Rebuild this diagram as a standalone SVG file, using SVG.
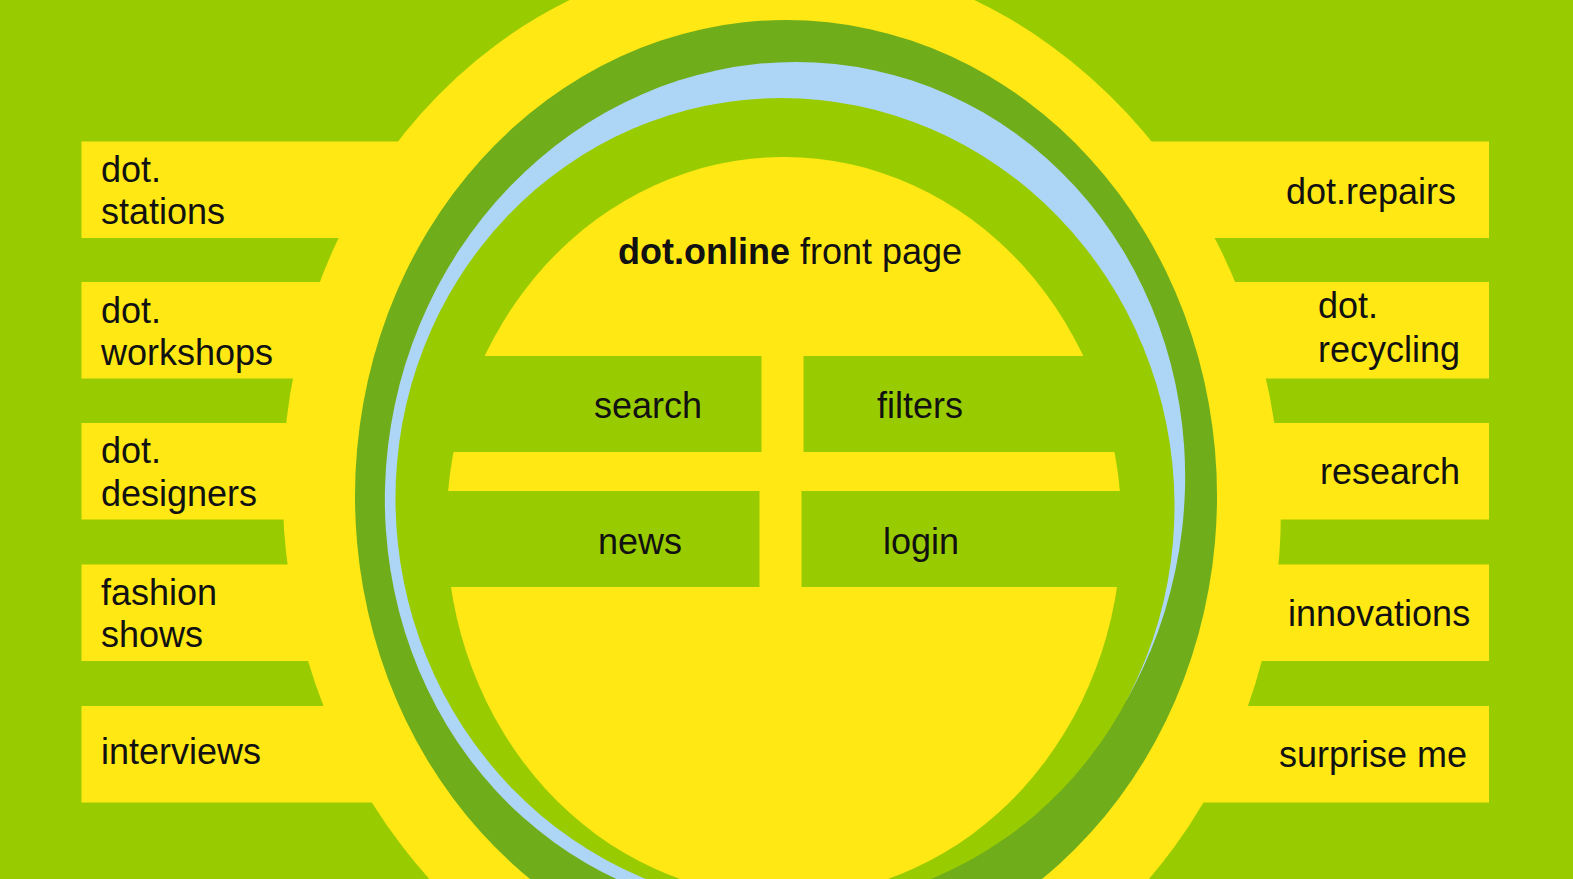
<svg xmlns="http://www.w3.org/2000/svg" width="1573" height="879" viewBox="0 0 1573 879">
  <style>
    .bg{fill:#99CC00}
    .yel{fill:#FFE814}
    .dk{fill:#70AD1B}
    .lb{fill:#ADD5F6}
    .gr{fill:#99CC00}
    .lbl{font-family:"Liberation Sans",Arial,Helvetica,sans-serif;font-size:36px;fill:#111}
    .inl{font-family:"Liberation Sans",Arial,Helvetica,sans-serif;font-size:36px;fill:#111}
    .ttl{font-family:"Liberation Sans",Arial,Helvetica,sans-serif;font-size:36px;fill:#111}
  </style>
  <defs>
    <clipPath id="blueClip">
      <polygon points="0,0 1573,0 1573,700 790,700 790,879 0,879"/>
    </clipPath>
  </defs>
  <rect class="bg" x="0" y="0" width="1573" height="879"/>

  <!-- big yellow backdrop -->
  <g id="backdrop">
    <g transform="translate(781.75 500) skewX(1.117)">
      <ellipse class="yel" cx="0" cy="0" rx="499" ry="547"/>
    </g>
  </g>

  <!-- left nodes -->
  <g id="node-dot-stations">
    <rect class="yel" x="81.5" y="141.5" width="520" height="96.5"/>
    <text class="lbl" x="101" y="182">dot.</text>
    <text class="lbl" x="101" y="224">stations</text>
  </g>
  <g id="node-dot-workshops">
    <rect class="yel" x="81.5" y="282" width="520" height="96.5"/>
    <text class="lbl" x="101" y="323">dot.</text>
    <text class="lbl" x="101" y="365">workshops</text>
  </g>
  <g id="node-dot-designers">
    <rect class="yel" x="81.5" y="423" width="520" height="96.5"/>
    <text class="lbl" x="101" y="463">dot.</text>
    <text class="lbl" x="101" y="506">designers</text>
  </g>
  <g id="node-fashion-shows">
    <rect class="yel" x="81.5" y="564.5" width="520" height="96.5"/>
    <text class="lbl" x="101" y="605">fashion</text>
    <text class="lbl" x="101" y="647">shows</text>
  </g>
  <g id="node-interviews">
    <rect class="yel" x="81.5" y="706" width="520" height="96.5"/>
    <text class="lbl" x="101" y="764">interviews</text>
  </g>

  <!-- right nodes -->
  <g id="node-dot-repairs">
    <rect class="yel" x="960" y="141.5" width="529" height="96.5"/>
    <text class="lbl" x="1286" y="204">dot.repairs</text>
  </g>
  <g id="node-dot-recycling">
    <rect class="yel" x="960" y="282" width="529" height="96.5"/>
    <text class="lbl" x="1318" y="318">dot.</text>
    <text class="lbl" x="1318" y="362">recycling</text>
  </g>
  <g id="node-research">
    <rect class="yel" x="960" y="423" width="529" height="96.5"/>
    <text class="lbl" x="1320" y="484">research</text>
  </g>
  <g id="node-innovations">
    <rect class="yel" x="960" y="564.5" width="529" height="96.5"/>
    <text class="lbl" x="1288" y="626">innovations</text>
  </g>
  <g id="node-surprise-me">
    <rect class="yel" x="960" y="706" width="529" height="96.5"/>
    <text class="lbl" x="1279" y="767">surprise me</text>
  </g>

  <!-- central front page -->
  <g id="node-front-page">
    <ellipse class="dk" cx="786" cy="496" rx="431" ry="476"/>
    <g clip-path="url(#blueClip)">
      <g transform="translate(785 488) skewX(-1.432)">
        <ellipse class="lb" cx="0" cy="0" rx="400" ry="426"/>
      </g>
    </g>
    <g transform="translate(785 502.5) skewX(0.516)">
      <ellipse class="gr" cx="0" cy="0" rx="389.5" ry="404.5"/>
    </g>
    <ellipse class="yel" cx="784" cy="527" rx="337.5" ry="370"/>
    <text class="ttl" x="790" y="264" text-anchor="middle"><tspan font-weight="bold">dot.online</tspan> front page</text>
  </g>

  <g id="node-search">
    <rect class="gr" x="430" y="356" width="331.5" height="96"/>
    <text class="inl" x="594" y="418">search</text>
  </g>
  <g id="node-filters">
    <rect class="gr" x="803.5" y="356" width="331.5" height="96"/>
    <text class="inl" x="877" y="418">filters</text>
  </g>
  <g id="node-news">
    <rect class="gr" x="430" y="491" width="329.5" height="96"/>
    <text class="inl" x="598" y="554">news</text>
  </g>
  <g id="node-login">
    <rect class="gr" x="801.5" y="491" width="333.5" height="96"/>
    <text class="inl" x="883" y="554">login</text>
  </g>

  <g id="connectors"/>
</svg>
